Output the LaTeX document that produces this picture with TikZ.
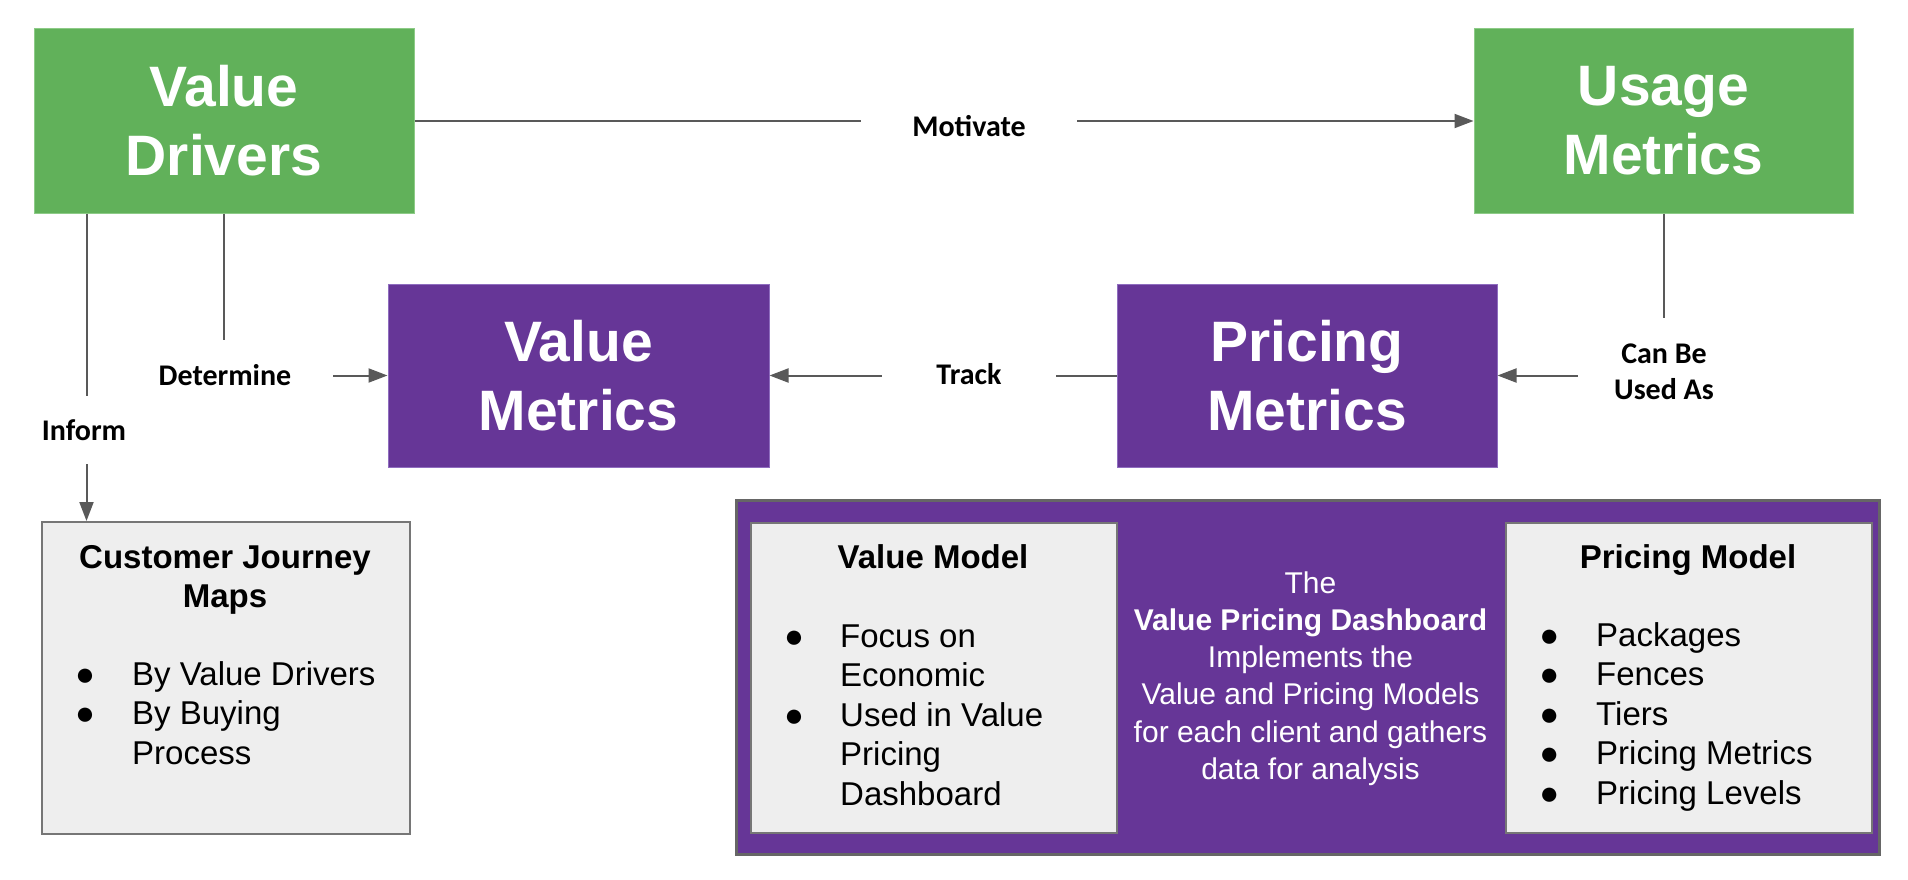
\documentclass[tikz,border=0pt]{standalone}
\usepackage{fontspec}
\setmainfont{Liberation Sans}
\newfontfamily\lblfont{Carlito}
\usepackage{array}
\usetikzlibrary{arrows.meta}
\definecolor{vgreen}{HTML}{61B15A}
\definecolor{vgreenb}{HTML}{8DCB87}
\definecolor{vpurple}{HTML}{663697}
\definecolor{vpurpleb}{HTML}{8F6DBF}
\definecolor{conngray}{HTML}{595959}
\definecolor{boxgray}{HTML}{EEEEEE}
\definecolor{bordgray}{HTML}{767676}
\definecolor{dashbord}{HTML}{666666}
\begin{document}
\begin{tikzpicture}[x=1pt,y=-1pt,
  greenbox/.style={rectangle, fill=vgreen, draw=vgreenb, line width=1pt, minimum width=380pt, minimum height=184pt, inner sep=0pt, text=white, align=center, font=\fontsize{57}{69}\selectfont\bfseries},
  purplebox/.style={greenbox, fill=vpurple, draw=vpurpleb, minimum height=183pt},
  lbl/.style={inner sep=0pt, font=\lblfont\bfseries\fontsize{30}{36}\selectfont, align=center, text=black},
  conn/.style={draw=conngray, line width=2pt},
  arr/.style={conn, -{Triangle[length=19pt,width=14pt]}},
  inbox/.style={rectangle, fill=boxgray, draw=bordgray, line width=2pt, inner sep=0pt},
  dashbox/.style={rectangle, fill=vpurple, draw=dashbord, line width=2.5pt, inner sep=0pt},
  boxtitle/.style={inner sep=0pt, anchor=base, font=\fontsize{33}{39.5}\selectfont\bfseries},
  boxlist/.style={inner sep=0pt, anchor=base west, font=\fontsize{33}{39.5}\selectfont},
  midtext/.style={inner sep=0pt, anchor=base, text=white, font=\fontsize{30}{37.3}\selectfont}
]
\useasboundingbox[fill=white] (0,0) rectangle (1908,880);

% main boxes
\node[greenbox] (vd) at (224,121) {Value\\Drivers};
\node[greenbox, minimum width=379pt] (um) at (1663.5,121) {Usage\\Metrics};
\node[purplebox, minimum width=381pt] (vm) at (578.5,375.5) {Value\\Metrics};
\node[purplebox] (pm) at (1307,375.5) {Pricing\\Metrics};

% customer journey box
\node[inbox, minimum width=368pt, minimum height=312pt, anchor=north west] (cj) at (41,521) {};
\node[boxtitle] (cjt) at (225,568) {\begin{tabular}[t]{@{}c@{}}Customer Journey\\Maps\end{tabular}};
\node[boxlist] (cjl) at (85,685) {\begin{tabular}[t]{@{}p{47pt}@{}l@{}}
\makebox[0pt]{●} & By Value Drivers\\
\makebox[0pt]{●} & By Buying\\
 & Process
\end{tabular}};

% dashboard
\node[dashbox, minimum width=1143pt, minimum height=354pt, anchor=north west] (dash) at (735,499) {};
\node[inbox, minimum width=366pt, minimum height=310pt, anchor=north west] (vmod) at (750,522) {};
\node[inbox, minimum width=366pt, minimum height=310pt, anchor=north west] (pmod) at (1505,522) {};
\node[boxtitle] (vmodt) at (933,568) {Value Model};
\node[boxlist] (vmodl) at (794,647) {\begin{tabular}[t]{@{}p{46pt}@{}l@{}}
\makebox[0pt]{●} & Focus on\\
 & Economic\\
\makebox[0pt]{●} & Used in Value\\
 & Pricing\\
 & Dashboard
\end{tabular}};
\node[boxtitle] (pmodt) at (1688,568) {Pricing Model};
\node[boxlist] (pmodl) at (1549,646) {\begin{tabular}[t]{@{}p{47pt}@{}l@{}}
\makebox[0pt]{●} & Packages\\
\makebox[0pt]{●} & Fences\\
\makebox[0pt]{●} & Tiers\\
\makebox[0pt]{●} & Pricing Metrics\\
\makebox[0pt]{●} & Pricing Levels
\end{tabular}};
\node[midtext] (mid) at (1310.5,593) {\begin{tabular}[t]{@{}c@{}}
The\\
\textbf{Value Pricing Dashboard}\\
Implements the\\
Value and Pricing Models\\
for each client and gathers\\
data for analysis
\end{tabular}};

% connector labels
\node[lbl, minimum width=216pt, minimum height=40pt] (mot) at (969,126) {Motivate};
\node[lbl, minimum width=174pt, minimum height=40pt] (trk) at (969,374) {Track};
\node[lbl, minimum width=216pt, minimum height=70pt] (det) at (225,375) {Determine};
\node[lbl, minimum width=100pt, minimum height=68pt] (inf) at (84,430) {Inform};
\node[lbl, minimum width=172pt, minimum height=107pt] (cbu) at (1664,371.5) {Can Be\\Used As};

% connectors
\draw[conn] (vd.east) -- (vd.east -| mot.west);
\draw[arr] (vd.east -| mot.east) -- (um.west);
\draw[conn] (pm.west) -- (pm.west -| trk.east);
\draw[arr] (pm.west -| trk.west) -- (vm.east);
\draw[conn] (vd.south) -- (vd.south |- det.north);
\draw[arr] (det.east |- vm.west) -- (vm.west);
\draw[conn] ([xshift=53pt]vd.south west) -- ([xshift=53pt]vd.south west |- inf.north);
\draw[arr] ([xshift=53pt]vd.south west |- inf.south) -- ([xshift=53pt]vd.south west |- cj.north);
\draw[conn] (um.south) -- (um.south |- cbu.north);
\draw[arr] (cbu.west |- pm.east) -- (pm.east);
\end{tikzpicture}
\end{document}
